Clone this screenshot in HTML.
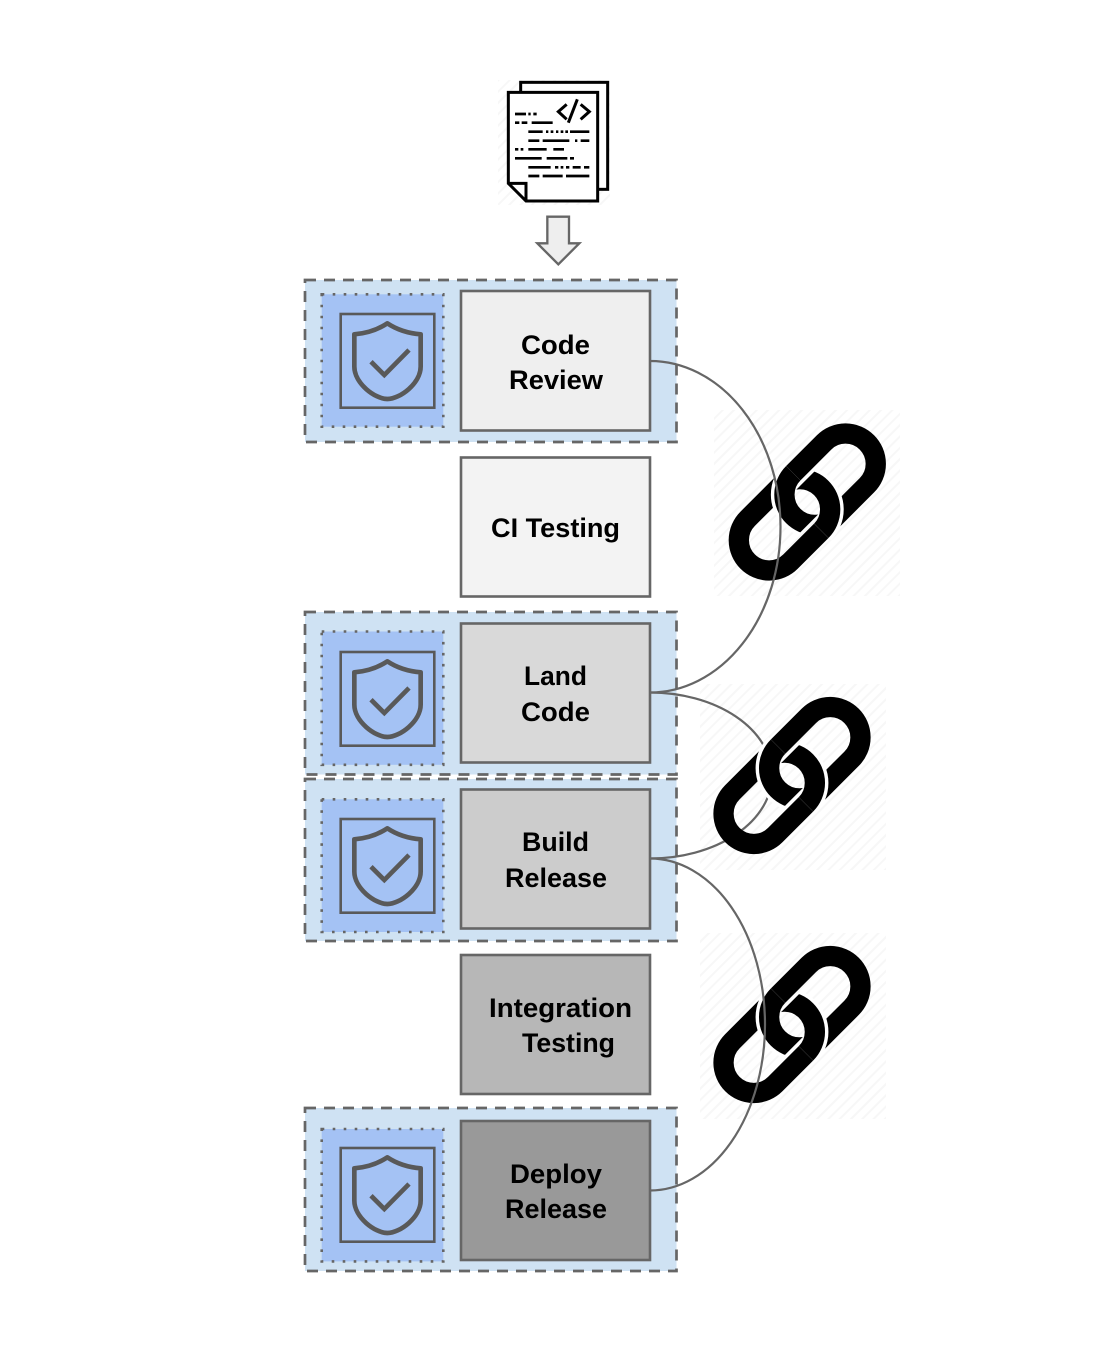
<!DOCTYPE html>
<html>
<head>
<meta charset="utf-8">
<style>
html,body{margin:0;padding:0;background:#fff;}
svg{display:block;}
text{font-family:"Liberation Sans",sans-serif;font-weight:700;font-size:27px;fill:#000;}
</style>
</head>
<body>
<svg width="1106" height="1350" viewBox="0 0 1106 1350" xmlns="http://www.w3.org/2000/svg">
<defs>
  <pattern id="hatch" width="8" height="8" patternUnits="userSpaceOnUse" patternTransform="rotate(45)">
    <rect width="8" height="8" fill="#fff"/>
    <rect width="2" height="8" fill="#f7f7f7"/>
  </pattern>
  <clipPath id="clipA"><rect x="-60" y="-60" width="120" height="76.5"/></clipPath>
  <clipPath id="clipB"><rect x="-60" y="-16.5" width="120" height="76.5"/></clipPath>
  <g id="link" fill="none" stroke="#000" stroke-width="20.3">
    <path d="M0,30.3 H54 A30.3,30.3 0 0 0 54,-30.3 H10.5"/>
    <path d="M0,-30.3 H-54 A30.3,30.3 0 0 0 -54,30.3 H-10.5"/>
    <g clip-path="url(#clipB)">
      <path d="M-10.5,32 A32,32 0 0 0 -10.5,-32" stroke="#fff" stroke-width="23.7"/>
      <path d="M-10.5,30.3 A30.3,30.3 0 0 0 -10.5,-30.3"/>
    </g>
    <g clip-path="url(#clipA)">
      <path d="M10.5,-32 A32,32 0 0 0 10.5,32" stroke="#fff" stroke-width="23.7"/>
      <path d="M10.5,-30.3 A30.3,30.3 0 0 0 10.5,30.3"/>
    </g>
  </g>
  <g id="shield" fill="none" stroke="#595959">
    <rect x="340.7" y="0" width="93.6" height="93.7" stroke-width="2.6"/>
    <g transform="translate(300,-39) scale(0.33333)" stroke-width="14">
      <path d="M262,145 C232,165 200,175 163,178 V275 C163,325 225,372 262,372 C300,372 362,325 362,275 V178 C325,175 292,165 262,145 Z" stroke-linejoin="round"/>
      <path d="M213,260 L253,300 L327,225"/>
    </g>
  </g>
</defs>

<!-- hatched icon backgrounds -->
<rect x="498" y="80" width="112" height="125" fill="url(#hatch)"/>
<rect x="714" y="410" width="186" height="186" fill="url(#hatch)"/>
<rect x="700" y="684" width="186" height="186" fill="url(#hatch)"/>
<rect x="700" y="933" width="186" height="186" fill="url(#hatch)"/>

<!-- document icon -->
<g transform="translate(490,70) scale(0.33333)" fill="none" stroke="#000">
  <rect x="92" y="37" width="261" height="321" fill="#fff" stroke-width="9"/>
  <path d="M55,67 H323 V393 H108 L55,340 Z" fill="#fff" stroke-width="9"/>
  <path d="M55,340 H108 V393" stroke-width="9"/>
  <path stroke-width="8" d="M75,132H108M115,132H122M130,132H140
    M75,158H88M95,158H112M125,158H188
    M115,185H158M168,185H175M182,185H190M198,185H205M212,185H220M226,185H234M240,185H298
    M115,212H148M158,212H238M255,212H262M272,212H298
    M75,238H85M92,238H100M115,238H170M190,238H222
    M75,265H155M170,265H232M240,265H252
    M115,292H182M195,292H205M212,292H220M228,292H238M248,292H272M282,292H298
    M115,318H148M158,318H218M228,318H298"/>
  <path stroke-width="9" d="M230,103L205,125L230,148M262,88L235,158M272,103L298,125L272,148"/>
</g>

<!-- down arrow -->
<g transform="translate(490,70) scale(0.33333)">
  <path d="M172,440 H237 V520 H268 L205,583 L142,520 H172 Z" fill="#eeeeee" stroke="#666" stroke-width="7"/>
</g>

<!-- dashed groups -->
<g fill="#cfe2f3" stroke="#666" stroke-width="2.7" stroke-dasharray="11 8">
  <rect x="305" y="280" width="371.5" height="162"/>
  <rect x="305" y="612" width="371.5" height="162.5"/>
  <rect x="305" y="779" width="371.5" height="162"/>
  <rect x="305" y="1108" width="371.5" height="163"/>
</g>

<!-- dotted inner -->
<g fill="#a4c2f4" stroke="#666" stroke-width="2.6" stroke-dasharray="2.6 8.4">
  <rect x="321.7" y="294.3" width="121.6" height="132.4"/>
  <rect x="321.7" y="631.5" width="121.6" height="133.3"/>
  <rect x="321.7" y="799.3" width="121.6" height="132.7"/>
  <rect x="321.7" y="1129" width="121.6" height="132.4"/>
</g>

<!-- shields -->
<use href="#shield" x="0" y="314"/>
<use href="#shield" x="0" y="652"/>
<use href="#shield" x="0" y="819"/>
<use href="#shield" x="0" y="1148"/>

<!-- process boxes -->
<g stroke="#666" stroke-width="2.6">
  <rect x="461" y="291" width="189" height="139.5" fill="#efefef"/>
  <rect x="461" y="457.5" width="189" height="139" fill="#f3f3f3"/>
  <rect x="461" y="623.5" width="189" height="139" fill="#d9d9d9"/>
  <rect x="461" y="789.5" width="189" height="139" fill="#cccccc"/>
  <rect x="461" y="955" width="189" height="139" fill="#b7b7b7"/>
  <rect x="461" y="1121" width="189" height="139" fill="#999999"/>
</g>

<!-- labels -->
<g>
  <text x="521" y="354" textLength="69" lengthAdjust="spacingAndGlyphs">Code</text>
  <text x="509" y="389" textLength="94" lengthAdjust="spacingAndGlyphs">Review</text>
  <text x="491" y="537" textLength="129" lengthAdjust="spacingAndGlyphs">CI Testing</text>
  <text x="524" y="685" textLength="63" lengthAdjust="spacingAndGlyphs">Land</text>
  <text x="521" y="721" textLength="69" lengthAdjust="spacingAndGlyphs">Code</text>
  <text x="522" y="851" textLength="67" lengthAdjust="spacingAndGlyphs">Build</text>
  <text x="505" y="887" textLength="102" lengthAdjust="spacingAndGlyphs">Release</text>
  <text x="489" y="1017" textLength="143" lengthAdjust="spacingAndGlyphs">Integration</text>
  <text x="522" y="1052" textLength="93" lengthAdjust="spacingAndGlyphs">Testing</text>
  <text x="510" y="1183" textLength="92" lengthAdjust="spacingAndGlyphs">Deploy</text>
  <text x="505" y="1218" textLength="102" lengthAdjust="spacingAndGlyphs">Release</text>
</g>

<!-- links and arcs -->
<use href="#link" transform="translate(807.3,502) rotate(-45)"/>
<use href="#link" transform="translate(792,1024.5) rotate(-45)"/>
<g fill="none" stroke="#666" stroke-width="2.2">
  <path d="M650,692.5 A122,83 0 0 1 650,858.5"/>
</g>
<use href="#link" transform="translate(792,775.5) rotate(-45)"/>
<g fill="none" stroke="#666" stroke-width="2.2">
  <path d="M650,361 A130.5,165.75 0 0 1 650,692.5"/>
  <path d="M650,858.5 A115,166 0 0 1 650,1190.5"/>
</g>
</svg>
</body>
</html>
